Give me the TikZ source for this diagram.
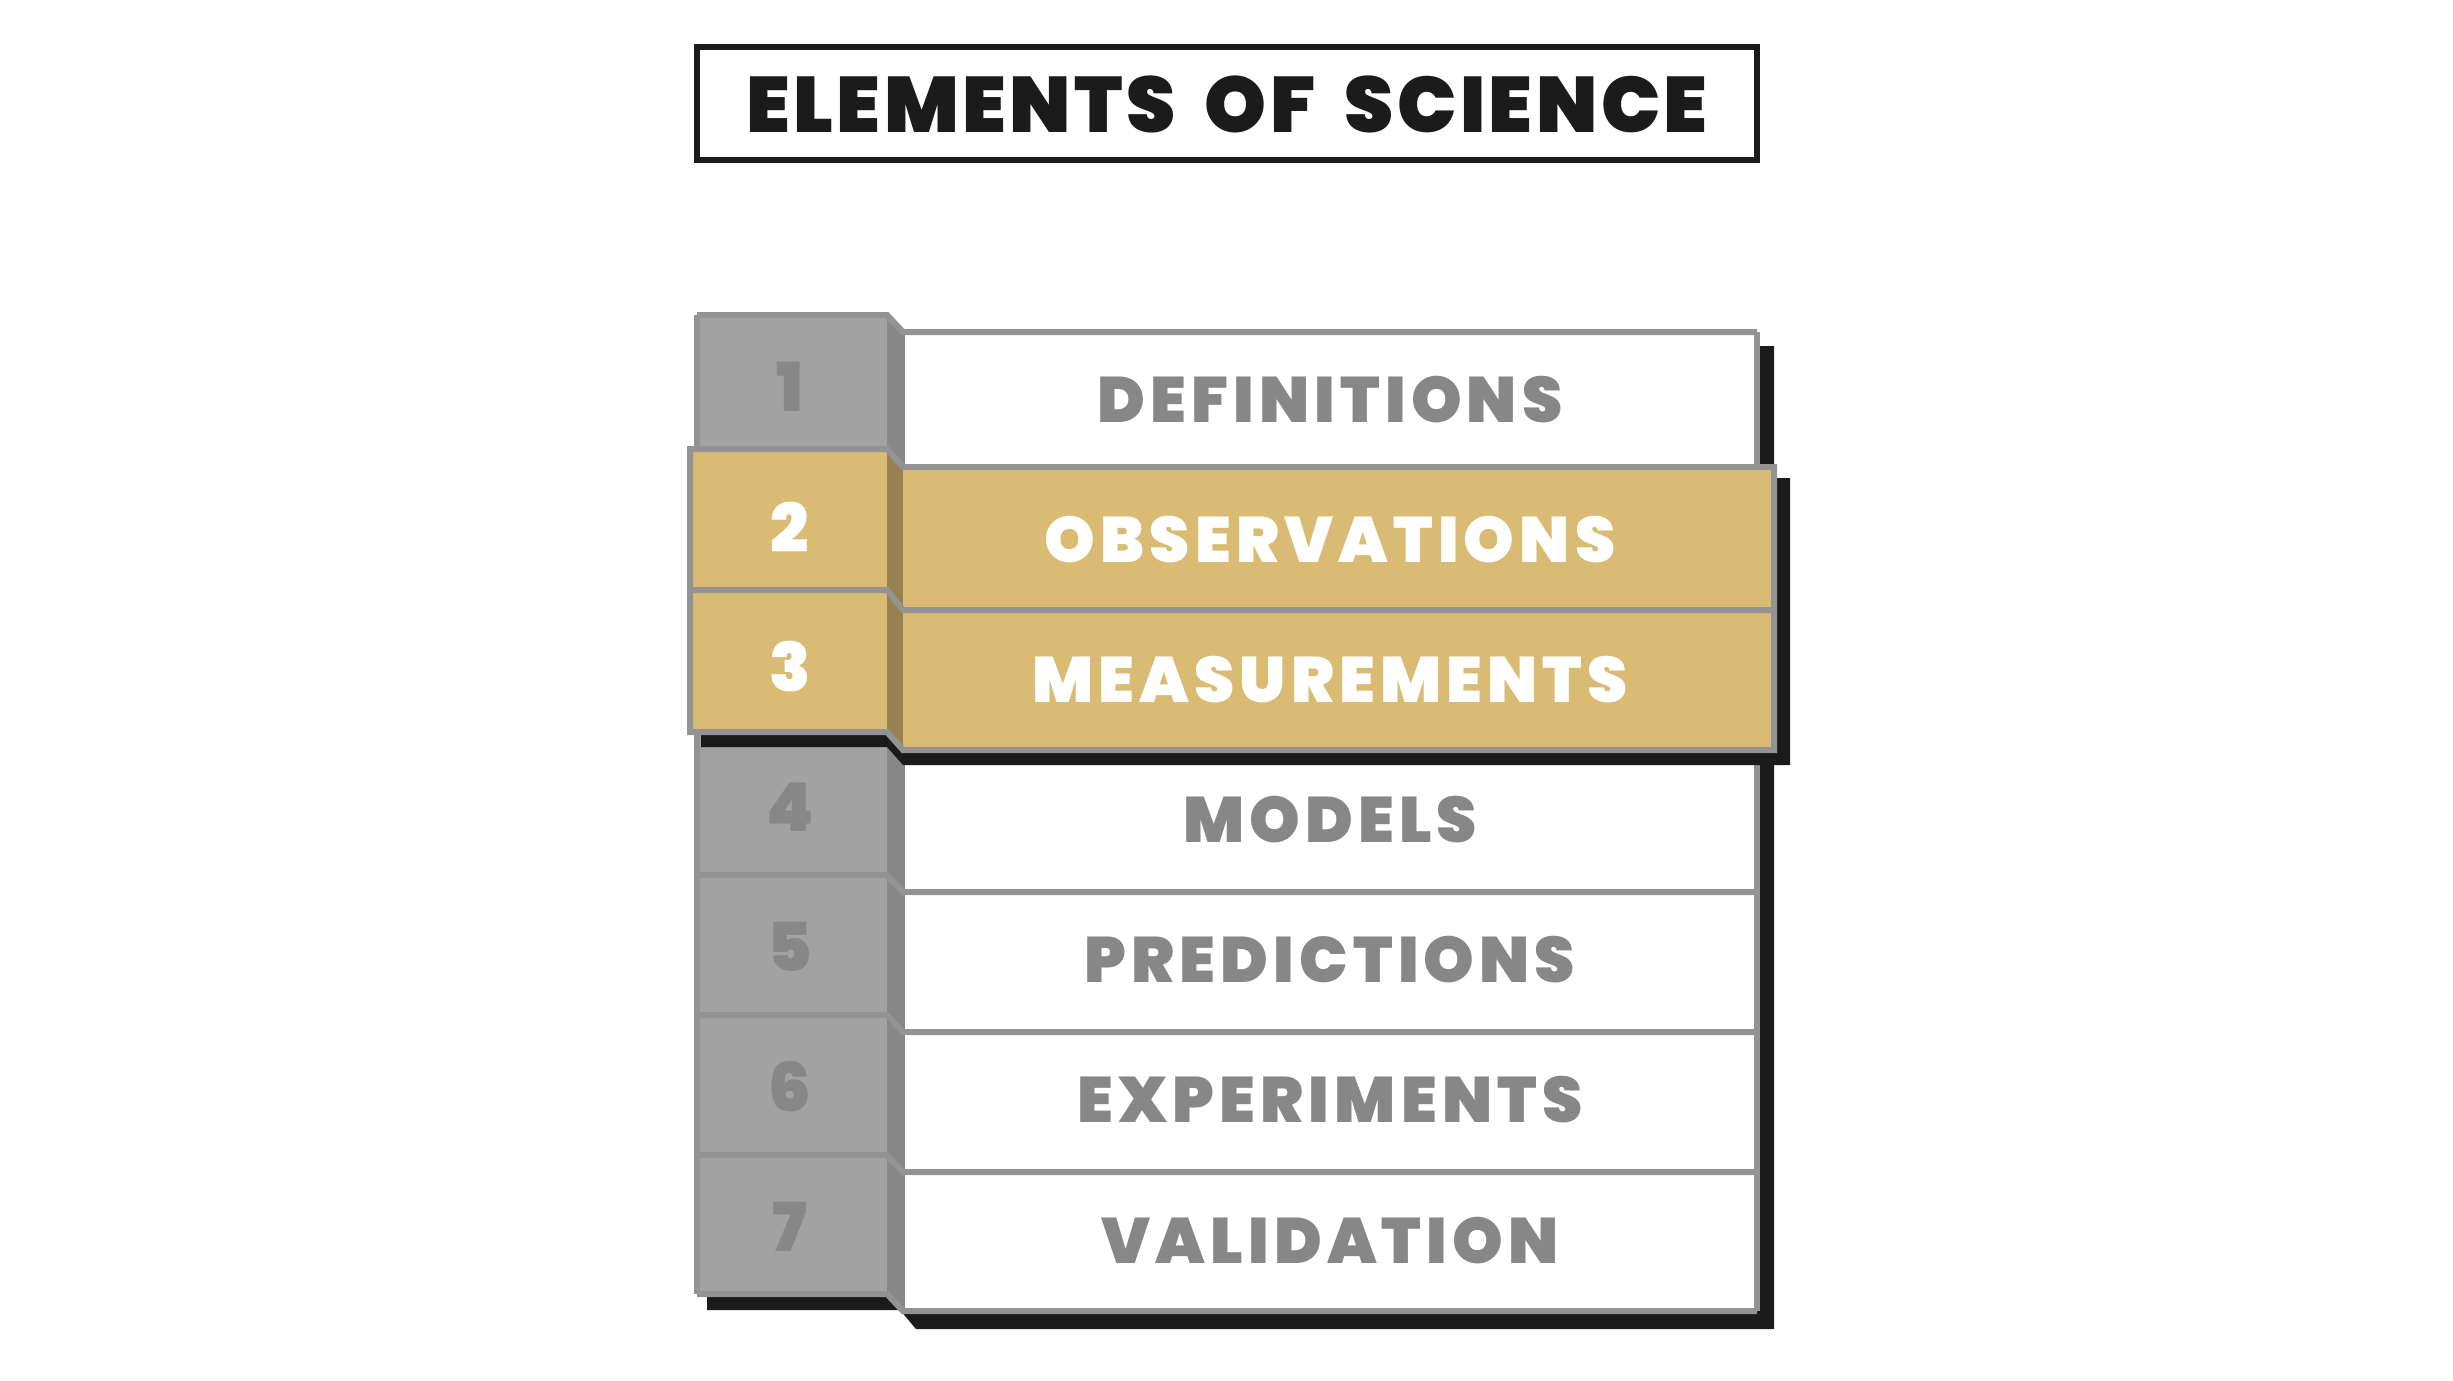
\documentclass[tikz,border=0pt]{standalone}
\usepackage{fontspec}
\IfFontExistsTF{Poppins Black}
  {\newfontfamily\heavyfont{Poppins Black}[LetterSpace=8]
   \newfontfamily\titlefont{Poppins Black}[LetterSpace=4.5,WordSpace=1.7]}
  {\newfontfamily\heavyfont{Poppins}[LetterSpace=8,FakeBold=3]
   \newfontfamily\titlefont{Poppins}[LetterSpace=4.5,WordSpace=1.7,FakeBold=3]}
\definecolor{rimgray}{HTML}{939393}
\definecolor{facegray}{HTML}{A2A2A2}
\definecolor{sidegray}{HTML}{878787}
\definecolor{gold}{HTML}{D9BB74}
\definecolor{darkgold}{HTML}{978150}
\definecolor{ink}{HTML}{1B1B1B}
\begin{document}
\begin{tikzpicture}[x=0.1mm,y=-0.1mm,
		rim/.style={draw=rimgray,line width=0.6mm},
		label/.style={inner sep=0,text=sidegray,font=\heavyfont\fontsize{18.3}{20}\selectfont},
		hilabel/.style={label,text=white},
		num/.style={inner sep=0,text=sidegray,font=\heavyfont\fontsize{19.2}{21}\selectfont},
		hinum/.style={num,text=white}]
	\useasboundingbox (0,0) rectangle (2453,1380);
	% title
	\draw[ink,line width=0.6mm] (697,47) rectangle (1757,160);
	\node[inner sep=0,text=ink,font=\titlefont\fontsize{22.4}{24}\selectfont] (title) at (1227,104) {ELEMENTS OF SCIENCE};
	% stack and its shadow
	\fill[ink] (707,325) to (900,325) to (916,346) to (1774,346) to (1774,1329) to (916,1329) to (900,1310) to (707,1310) to cycle;
	\fill[facegray] (697,315) rectangle (887,1294);
	\fill[sidegray] (887,315) to (905,332) to (905,1311) to (887,1294) to cycle;
	\fill[white] (905,332) rectangle (1757,1311);
	\draw[rim] (697,315) to (697,1294);
	\draw[rim] (1757,332) to (1757,1311);
	\draw[rim] (697,315) to (887,315) to (903,332) to (1757,332);
	\draw[rim] (697,875) to (887,875) to (903,892) to (1757,892);
	\draw[rim] (697,1015) to (887,1015) to (903,1032) to (1757,1032);
	\draw[rim] (697,1155) to (887,1155) to (903,1172) to (1757,1172);
	\draw[rim] (697,1294) to (887,1294) to (903,1311) to (1757,1311);
	% rows 2 and 3 pulled out
	\fill[ink] (701,460) to (887,460) to (903,478) to (1790,478) to (1790,765) to (903,765) to (887,747) to (701,747) to cycle;
	\fill[gold] (690,449) rectangle (887,732);
	\fill[darkgold] (887,449) to (903,467) to (903,750) to (887,732) to cycle;
	\fill[gold] (903,467) rectangle (1774,750);
	\draw[rim] (690,449) to (887,449) to (903,467) to (1774,467) to (1774,750) to (903,750) to (887,732) to (690,732) to cycle;
	\draw[rim] (690,590) to (887,590) to (903,610) to (1774,610);
	% numbers
	\node[num] (n1) at (790,387) {1};
	\node[hinum] (n2) at (790,527) {2};
	\node[hinum] (n3) at (790,667) {3};
	\node[num] (n4) at (790,807) {4};
	\node[num] (n5) at (790,947) {5};
	\node[num] (n6) at (790,1087) {6};
	\node[num] (n7) at (790,1227) {7};
	% labels
	\node[label] (definitions) at (1330,400) {DEFINITIONS};
	\node[hilabel] (observations) at (1330,540) {OBSERVATIONS};
	\node[hilabel] (measurements) at (1330,680) {MEASUREMENTS};
	\node[label] (models) at (1330,820) {MODELS};
	\node[label] (predictions) at (1330,960) {PREDICTIONS};
	\node[label] (experiments) at (1330,1100) {EXPERIMENTS};
	\node[label] (validation) at (1330,1241) {VALIDATION};
\end{tikzpicture}
\end{document}
